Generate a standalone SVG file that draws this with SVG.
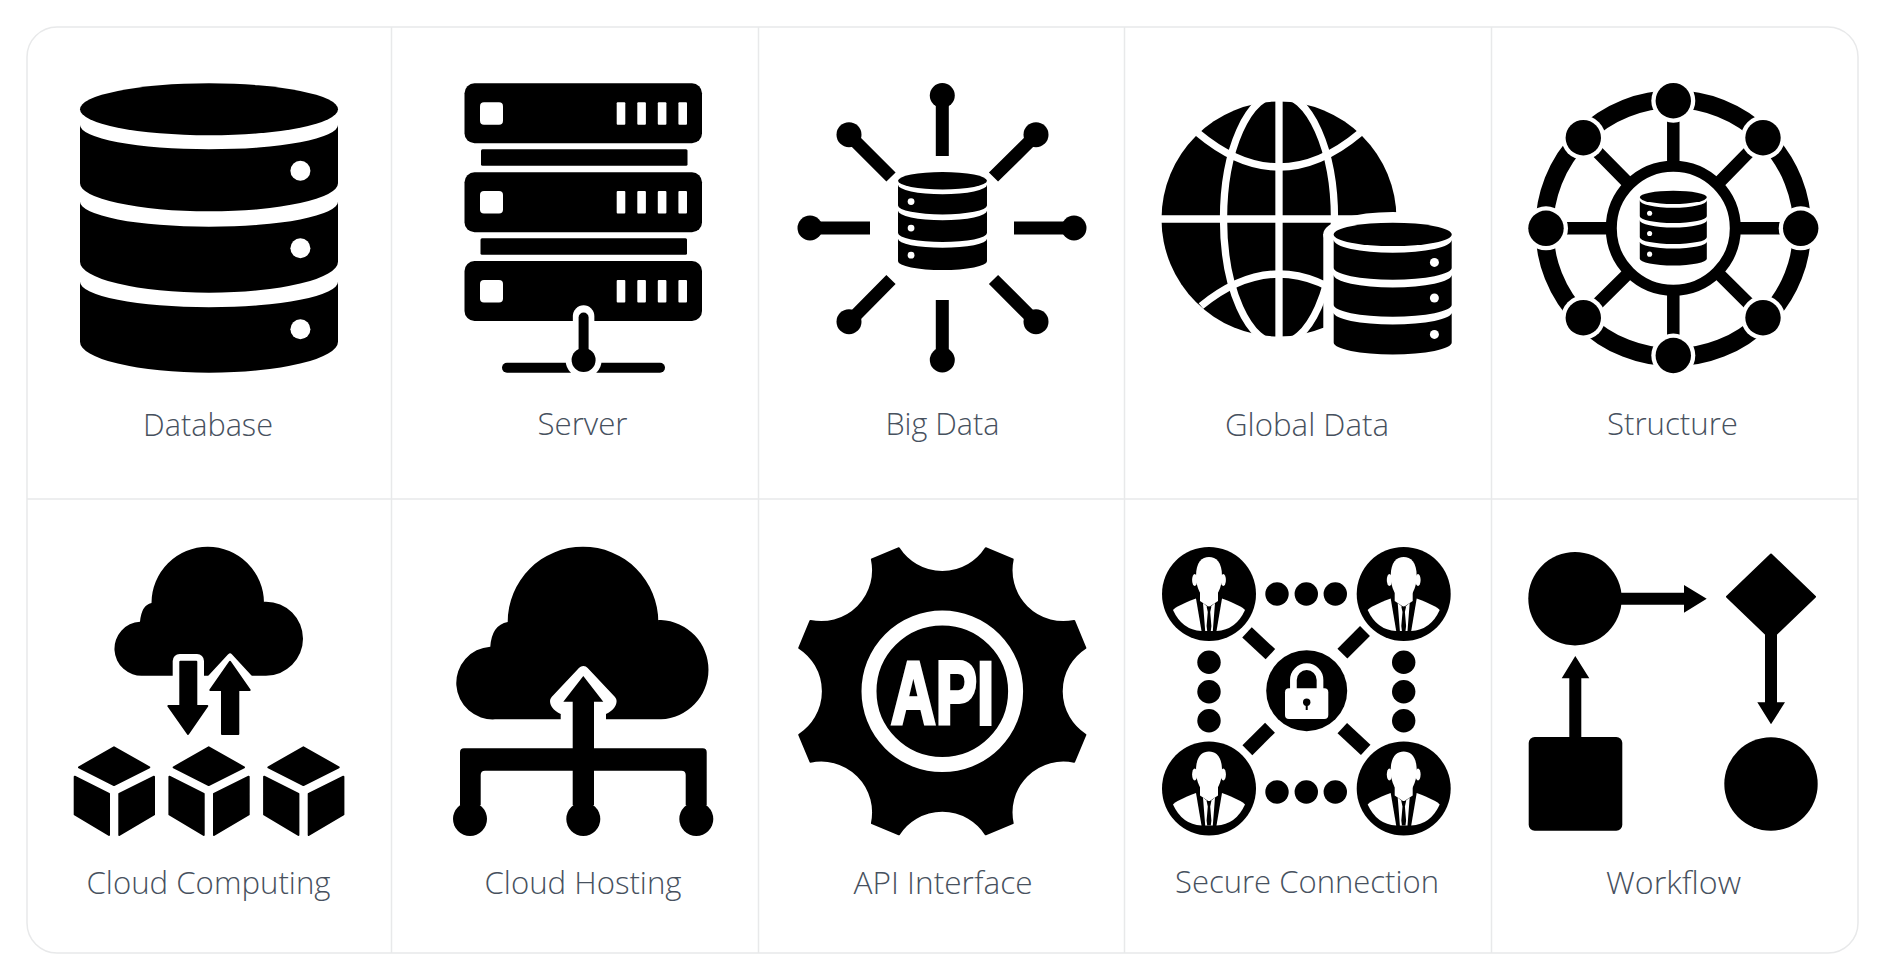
<svg xmlns="http://www.w3.org/2000/svg" width="1885" height="980" viewBox="0 0 1885 980">
<style>
.lb{font-family:"Open Sans","Liberation Sans",sans-serif;font-weight:300;font-size:31px;fill:#47515e;text-anchor:middle}
.grid{stroke:#e8e9ea;stroke-width:1.5;fill:none}
.w{fill:#fff}
.rj{stroke:#000;stroke-width:2;stroke-linejoin:round}
.sp{stroke:#000;fill:none}
</style>
<defs>
<g id="dbs">
<ellipse cx="0" cy="11.7" rx="59" ry="11.7"/>
<path d="M-59 17A59 13 0 0 0 59 17V45A59 12 0 0 1-59 45Z"/>
<path d="M-59 52A59 12.7 0 0 0 59 52V82A59 12 0 0 1-59 82Z"/>
<path d="M-59 89.7A59 12 0 0 0 59 89.7V119.7A59 12 0 0 1-59 119.7Z"/>
<circle class="w" cx="41.7" cy="39.7" r="4.5"/>
<circle class="w" cx="41.7" cy="75.3" r="4.5"/>
<circle class="w" cx="41.7" cy="111.7" r="4.5"/>
</g>
<g id="cube" class="rj">
<path d="M79 767.3L114 747.3L149.3 767.3L114 785Z"/>
<path d="M74.7 776.7L109 794V835L74.7 814.5Z"/>
<path d="M119.3 794L154 776.7V814.5L119.3 835Z"/>
</g>
<g id="person">
<circle r="47"/>
<path class="w" d="M-13-18C-13-32-7-37 0-37C7-37 13-32 13-18C13-6 8 4 0 6C-8 4-13-6-13-18Z"/>
<ellipse class="w" cx="-14.300" cy="-14" rx="2.600" ry="6"/>
<ellipse class="w" cx="14.300" cy="-14" rx="2.600" ry="6"/>
<path class="w" d="M-9-5V7L0 13L9 7V-5Z"/>
<path class="w" d="M-36 16Q-33 12-13 4.500L-7.500 37Q-27 36-36 16Z"/>
<path class="w" d="M36 16Q33 12 13 4.500L7.500 37Q27 36 36 16Z"/>
<path class="w" d="M-6 9L0 14L6 9L3.800 37H-3.800Z"/>
<path d="M-2.400 12.500H2.400L1.200 18L2.400 32L1.800 37H-1.800L-2.400 32L-1.200 18Z"/>
</g>
</defs>
<rect width="1885" height="980" fill="#fff"/>
<g id="grid">
<rect class="grid" x="27" y="27" width="1831" height="926" rx="30"/>
<path class="grid" d="M391.500 27V953M758.500 27V953M1124.500 27V953M1491.500 27V953M27 499H1858"/>
</g>

<g id="database">
<ellipse cx="209" cy="109.300" rx="129" ry="26"/>
<path d="M80 125A129 24.300 0 0 0 338 125V183.300A129 28 0 0 1 80 183.300Z"/>
<path d="M80 201.700A129 25 0 0 0 338 201.700V261.700A129 31 0 0 1 80 261.700Z"/>
<path d="M80 281.700A129 25.600 0 0 0 338 281.700V341.700A129 31 0 0 1 80 341.700Z"/>
<circle class="w" cx="300.400" cy="170.700" r="10"/>
<circle class="w" cx="300.400" cy="248.300" r="10"/>
<circle class="w" cx="300.400" cy="329.300" r="10"/>
<text class="lb" x="208" y="436" textLength="130" lengthAdjust="spacingAndGlyphs">Database</text>
</g>

<g id="server">
<rect x="464.500" y="83.300" width="237.500" height="60" rx="10"/>
<rect x="481" y="149.300" width="206.500" height="16.400" rx="1.500"/>
<rect x="464.500" y="172.300" width="237.500" height="60" rx="10"/>
<rect x="480.500" y="238.300" width="206.500" height="16.400" rx="1.500"/>
<rect x="464.500" y="261" width="237.500" height="60" rx="10"/>
<g class="w">
<rect x="480" y="102.300" width="23" height="22.400" rx="4"/><rect x="616.700" y="102.300" width="8.600" height="22.400" rx="1"/><rect x="637.300" y="102.300" width="8.600" height="22.400" rx="1"/><rect x="657.800" y="102.300" width="8.600" height="22.400" rx="1"/><rect x="678.400" y="102.300" width="8.600" height="22.400" rx="1"/>
<rect x="480" y="191" width="23" height="22.400" rx="4"/><rect x="616.700" y="191" width="8.600" height="22.400" rx="1"/><rect x="637.300" y="191" width="8.600" height="22.400" rx="1"/><rect x="657.800" y="191" width="8.600" height="22.400" rx="1"/><rect x="678.400" y="191" width="8.600" height="22.400" rx="1"/>
<rect x="480" y="280" width="23" height="22.400" rx="4"/><rect x="616.700" y="280" width="8.600" height="22.400" rx="1"/><rect x="637.300" y="280" width="8.600" height="22.400" rx="1"/><rect x="657.800" y="280" width="8.600" height="22.400" rx="1"/><rect x="678.400" y="280" width="8.600" height="22.400" rx="1"/>
</g>
<rect x="502" y="362.700" width="163" height="10" rx="5"/>
<path stroke="#fff" stroke-width="21.500" stroke-linecap="round" d="M583.600 316V350"/>
<circle class="w" cx="583.600" cy="360" r="18"/>
<path stroke="#000" stroke-width="10" stroke-linecap="round" d="M583.600 317.500V355"/>
<ellipse cx="583.600" cy="360" rx="12" ry="12"/>
<text class="lb" x="582.500" y="435" textLength="90" lengthAdjust="spacingAndGlyphs">Server</text>
</g>

<g id="big-data">
<g class="sp" stroke-width="13">
<path d="M942.300 96V156M810 228H870M1074 228H1014M942.300 360V300M849 135L891 177M1036 135L993.500 177M849 322L891 279.500M1036 322L993.500 279.500"/>
</g>
<circle cx="942.300" cy="95.500" r="12.500"/><circle cx="810" cy="228" r="12.500"/><circle cx="1074" cy="228" r="12.500"/><circle cx="942.300" cy="360" r="12.500"/>
<circle cx="849" cy="134.700" r="12.500"/><circle cx="1036" cy="134.700" r="12.500"/><circle cx="849" cy="321.700" r="12.500"/><circle cx="1036" cy="321.700" r="12.500"/>
<use href="#dbs" transform="translate(942.500 172) scale(-.754 .745)"/>
<text class="lb" x="942.400" y="435" textLength="114" lengthAdjust="spacingAndGlyphs">Big Data</text>
</g>

<g id="global-data">
<circle cx="1279" cy="219" r="117.500"/>
<g fill="none" stroke="#fff" stroke-width="7.300">
<path d="M1279 95V345M1155 219H1405"/>
<ellipse cx="1279" cy="219" rx="55.500" ry="125"/>
<path d="M1198 133Q1279 201 1360 133M1201 306Q1279 242 1357 306"/>
</g>
<ellipse class="w" cx="1392.700" cy="234.400" rx="69.500" ry="22.500"/>
<rect class="w" x="1323.300" y="234" width="139" height="130"/>
<use href="#dbs" transform="translate(1392.700 222.700)"/>
<text class="lb" x="1307" y="436" textLength="164" lengthAdjust="spacingAndGlyphs">Global Data</text>
</g>

<g id="structure">
<circle cx="1673.300" cy="228.300" r="129" fill="none" stroke="#000" stroke-width="18"/>
<circle cx="1673.300" cy="228.300" r="62" fill="none" stroke="#000" stroke-width="11"/>
<g class="sp" stroke-width="12.500">
<path d="M1673.300 168V100M1673.300 288V356M1613 228.300H1546M1733.500 228.300H1800.700M1631 186L1583.300 137.700M1715.600 186L1763 137.700M1631 270.600L1583.300 317.700M1715.600 270.600L1763 317.700"/>
</g>
<g class="w">
<circle cx="1673.300" cy="100.700" r="22"/><circle cx="1673.300" cy="355.500" r="22"/><circle cx="1546" cy="228.300" r="22"/><circle cx="1800.700" cy="228.300" r="22"/>
<circle cx="1583.300" cy="137.700" r="22"/><circle cx="1763" cy="137.700" r="22"/><circle cx="1583.300" cy="317.700" r="22"/><circle cx="1763" cy="317.700" r="22"/>
</g>
<circle cx="1673.300" cy="100.700" r="17.700"/><circle cx="1673.300" cy="355.500" r="17.700"/><circle cx="1546" cy="228.300" r="17.700"/><circle cx="1800.700" cy="228.300" r="17.700"/>
<circle cx="1583.300" cy="137.700" r="17.700"/><circle cx="1763" cy="137.700" r="17.700"/><circle cx="1583.300" cy="317.700" r="17.700"/><circle cx="1763" cy="317.700" r="17.700"/>
<use href="#dbs" transform="translate(1673.300 190.700) scale(-.568 .568)"/>
<text class="lb" x="1672.500" y="435" textLength="131" lengthAdjust="spacingAndGlyphs">Structure</text>
</g>

<g id="cloud-computing">
<path d="M143 675.700H266a37 37 0 0 0 0-74h-2v1.300a56 56 0 1 0-112.500 0q-10 2-11.500 18.700a27 27 0 0 0 3 54z"/>
<rect class="w" x="172.700" y="654" width="31.300" height="30" rx="7"/>
<path class="w" stroke="#fff" stroke-width="5" stroke-linejoin="round" d="M230 656L206 682H254Z"/>
<path class="rj" d="M180.300 661.700H196.300V706H207.300L188 734L168.300 706H180.300Z"/>
<path class="rj" d="M222 734H238.300V690H249.700L230 661.700L210.300 690H222Z"/>
<use href="#cube"/>
<use href="#cube" x="94.700"/>
<use href="#cube" x="189.400"/>
<text class="lb" x="208.500" y="894" textLength="244" lengthAdjust="spacingAndGlyphs">Cloud Computing</text>
</g>

<g id="cloud-hosting">
<path d="M495 719.300H661a49.700 49.700 0 0 0 0-99.300h-2.700v2a75.300 75.300 0 1 0-150.600 0q-16 3-17.400 24.700a36 36 0 0 0 4.700 72.600z"/>
<path class="w" stroke="#fff" stroke-width="12" stroke-linejoin="round" d="M583.300 672L556 701Q556 706 566.700 710V722H600V710Q610.600 706 610.600 701Z"/>
<path d="M583.300 676L603.300 701.700H594V748.300H702.700Q706.700 748.300 706.700 752.300V770.700V805H685.700V775Q685.700 770.700 681.400 770.700H594V805H572.700V770.700H485Q480.700 770.700 480.700 775V805H460V752.300Q460 748.300 464 748.300H572.700V701.700H563.300Z"/>
<circle cx="470" cy="819" r="17"/><circle cx="583.300" cy="819" r="17"/><circle cx="696.300" cy="819" r="17"/>
<text class="lb" x="583" y="894" textLength="197" lengthAdjust="spacingAndGlyphs">Cloud Hosting</text>
</g>

<g id="api-interface">
<g transform="translate(942.300 691.300)">
<path class="rj" transform="scale(.99)" d="M-43.900-144.500A52.300 52.300 0 0 0 43.900-144.500L71.100-133.200A52.300 52.300 0 0 0 133.200-71.100L144.500-43.900A52.300 52.300 0 0 0 144.500 43.900L133.200 71.100A52.300 52.300 0 0 0 71.100 133.200L43.900 144.500A52.300 52.300 0 0 0-43.900 144.500L-71.100 133.200A52.300 52.300 0 0 0-133.200 71.100L-144.500 43.900A52.300 52.300 0 0 0-144.500-43.900L-133.200-71.100A52.300 52.300 0 0 0-71.100-133.200Z"/>
<circle r="73.300" fill="none" stroke="#fff" stroke-width="15"/>
</g>
<text x="942.600" y="724" font-family="'Liberation Sans',Arial,sans-serif" font-weight="700" font-size="89" fill="#fff" stroke="#fff" stroke-width="4" stroke-linejoin="miter" text-anchor="middle" textLength="103" lengthAdjust="spacingAndGlyphs">API</text>
<text class="lb" x="943" y="894" textLength="179" lengthAdjust="spacingAndGlyphs">API Interface</text>
</g>

<g id="secure-connection">
<use href="#person" transform="translate(1209 594)"/>
<use href="#person" transform="translate(1403.700 594)"/>
<use href="#person" transform="translate(1209 788.500)"/>
<use href="#person" transform="translate(1403.700 788.500)"/>
<circle cx="1277" cy="594" r="11.700"/><circle cx="1306.300" cy="594" r="11.700"/><circle cx="1335.300" cy="594" r="11.700"/>
<circle cx="1277" cy="792" r="11.700"/><circle cx="1306.300" cy="792" r="11.700"/><circle cx="1335.300" cy="792" r="11.700"/>
<circle cx="1209" cy="662.300" r="11.700"/><circle cx="1209" cy="691.700" r="11.700"/><circle cx="1209" cy="720.700" r="11.700"/>
<circle cx="1403.700" cy="662.300" r="11.700"/><circle cx="1403.700" cy="691.700" r="11.700"/><circle cx="1403.700" cy="720.700" r="11.700"/>
<rect x="-16" y="-7" width="32" height="14" transform="translate(1258.700 643.300) rotate(43)"/>
<rect x="-16" y="-7" width="32" height="14" transform="translate(1353.700 642.300) rotate(-45)"/>
<rect x="-16" y="-7" width="32" height="14" transform="translate(1258.700 739) rotate(-45)"/>
<rect x="-16" y="-7" width="32" height="14" transform="translate(1354 739) rotate(43)"/>
<circle cx="1306.700" cy="690.700" r="40.500"/>
<path fill="none" stroke="#fff" stroke-width="6.700" d="M1293.400 690V680A13.300 13.300 0 0 1 1320 680V690"/>
<rect class="w" x="1285" y="688.300" width="43.300" height="30.700" rx="4"/>
<circle cx="1306.700" cy="702.300" r="3.700"/>
<rect x="1305.700" y="703" width="2" height="7"/>
<text class="lb" x="1307" y="892.500" textLength="264" lengthAdjust="spacingAndGlyphs">Secure Connection</text>
</g>

<g id="workflow">
<circle cx="1575" cy="598.700" r="46.700"/>
<path class="rj" stroke-width="3" d="M1771 554.500L1815 596.700L1771 639L1727 596.700Z"/>
<circle cx="1771" cy="784" r="46.700"/>
<rect x="1528.700" y="737" width="93.600" height="93.700" rx="6"/>
<text class="lb" x="1673.500" y="894" textLength="135" lengthAdjust="spacingAndGlyphs">Workflow</text>
</g>
<g id="connectors">
<path d="M1620 592.700H1684V585L1706.700 598.700L1684 612.700V604.700H1620Z"/>
<path d="M1765 630H1777V702.300H1785L1771 724.300L1757.300 702.300H1765Z"/>
<path d="M1569.300 740V678.300H1561.700L1575.300 656L1589.300 678.300H1581.300V740Z"/>
</g>
</svg>
